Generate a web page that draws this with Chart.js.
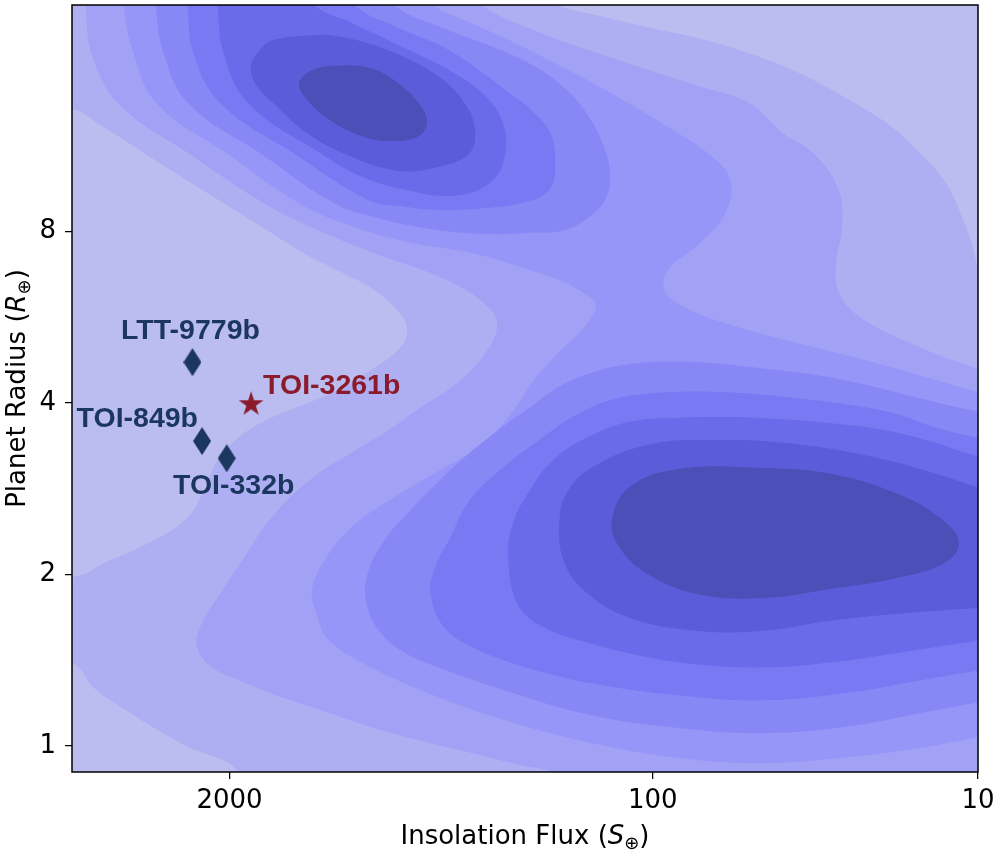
<!DOCTYPE html>
<html>
<head>
<meta charset="utf-8">
<title>Planet radius vs insolation flux</title>
<script src="https://cdn.jsdelivr.net/npm/chart.js@4.4.0/dist/chart.umd.min.js"></script>
<style>
  html, body { margin: 0; padding: 0; background: #ffffff; }
  #wrap { width: 995px; height: 853px; }
</style>
</head>
<body>
<div id="wrap"><canvas id="kdeChart" width="995" height="853"></canvas></div>
<script>
// tick values on both log axes
const fluxTicks = [2000, 100, 10];
const radiusTicks = [1, 2, 4, 8];

// comparison planets (diamonds) and the new planet (star)
const planetNames = ['LTT-9779b', 'TOI-849b', 'TOI-332b'];
const planetFlux = [2600, 2430, 2040];
const planetRadius = [4.72, 3.43, 3.2];
const targetName = 'TOI-3261b';
const targetFlux = 1717;
const targetRadius = 3.98;

// density contour outlines as [flux, radius] pairs.
// outlines that leave the plot keep going outside and get clipped.
const level1 = [
  [20000, 27.6], [20000, 13.4], [6130, 13.15], [5030, 12.38], [3630, 10.98], [2660, 9.81],
  [2075, 8.98], [1563, 8.12], [1185, 7.35], [919, 6.83], [717, 6.33], [600, 5.77], [567, 5.37],
  [600, 4.98], [743, 4.54], [951, 4.18], [1219, 3.94], [1563, 3.71], [1879, 3.47], [2180, 3.16],
  [2390, 2.8], [2754, 2.48], [3529, 2.27], [4685, 2.11], [6130, 1.975], [20000, 1.95],
  [20000, 1.415], [6130, 1.398], [5210, 1.265], [4303, 1.172], [3407, 1.077], [2677, 0.998],
  [1879, 0.899], [1619, 0.634], [5, 0.634], [5, 6.01], [9.18, 6.01], [10, 6.78], [10.4, 7.49],
  [11.2, 8.45], [12.6, 9.73], [15.1, 10.98], [18.7, 12.28], [24.8, 13.58], [35.3, 15.13],
  [50.3, 16.4], [71.7, 17.42], [102, 18.2], [146, 19.1], [197, 19.88], [257, 20.9], [296, 27.6]
];
const level2 = [
  [5510, 21.7], [5510, 19.88], [5290, 16.4], [4370, 13.41], [2660, 10.98], [1563, 8.98],
  [1100, 8.12], [743, 7.4], [430, 6.59], [324, 5.94], [300, 5.48], [324, 4.92], [393, 4.36],
  [521, 3.91], [658, 3.56], [826, 3.29], [1120, 2.94], [1487, 2.51], [1800, 2.14], [2149, 1.837],
  [2442, 1.628], [2512, 1.503], [2307, 1.387], [1866, 1.306], [1487, 1.239], [1043, 1.157],
  [732, 1.081], [514, 1.022], [361, 0.974], [257, 0.928], [200, 0.899], [146, 0.807], [5, 0.634],
  [5, 4.36], [8.55, 4.5], [10.07, 4.59], [15.8, 5.06], [22.6, 5.61], [26.6, 6.18], [27.5, 6.86],
  [26.2, 8.38], [27.2, 9.61], [32.2, 10.98], [39.8, 11.89], [50.3, 13.41], [71.7, 14.36],
  [102, 15.32], [146, 16.4], [207, 17.58], [333, 19.88], [366, 21.7]
];
const level3 = [
  [4213, 21.7], [4213, 19.88], [3925, 16.4], [3330, 13.41], [2030, 10.98], [1219, 8.98],
  [855, 8.22], [579, 7.71], [348, 7.32], [239, 6.86], [193, 6.59], [164, 6.26], [149, 5.94],
  [162, 5.43], [193, 4.92], [231, 4.39], [275, 3.79], [341, 3.36], [452, 3.04], [649, 2.69],
  [855, 2.4], [1021, 2.11], [1112, 1.875], [1073, 1.695], [986, 1.534], [732, 1.376], [455, 1.22],
  [285, 1.112], [154, 1.014], [82.6, 0.954], [45.9, 0.935], [24.8, 0.958], [15.1, 0.994],
  [10, 1.038], [8, 1.06], [5, 1.112], [5, 4.02], [8, 4.13], [10, 4.18], [14, 4.41], [20, 4.67],
  [28.5, 4.92], [40.7, 5.18], [57.9, 5.48], [76.9, 5.82], [91.8, 6.26], [89.9, 6.86], [71.7, 7.64],
  [60, 8.63], [57.9, 9.85], [66.8, 10.89], [88.6, 12.13], [126, 13.69], [193, 15.62], [296, 17.63],
  [421, 19.25], [465, 19.88], [503, 21.7]
];
const level4Upper = [
  [3359, 21.7], [3359, 19.88], [3173, 16.4], [2660, 13.41], [1600, 10.98], [951, 8.98], [692, 8.45],
  [559, 8.22], [421, 8.02], [296, 7.93], [239, 7.98], [189, 8.05], [156, 8.52], [139, 9.23],
  [136, 10.25], [143, 11.42], [160, 12.89], [189, 14.36], [239, 15.75], [317, 16.93], [421, 17.99],
  [618, 19.88], [645, 21.7]
];
const level4Lower = [
  [149, 4.54], [193, 4.27], [236, 3.94], [296, 3.59], [366, 3.26], [452, 2.92], [559, 2.58],
  [668, 2.29], [753, 1.99], [753, 1.765], [682, 1.577], [579, 1.461], [455, 1.376], [285, 1.254],
  [154, 1.134], [82.6, 1.077], [45.9, 1.055], [24.8, 1.085], [15.1, 1.144], [10, 1.195], [8, 1.22],
  [5, 1.254], [5, 3.71], [8, 3.82], [10, 3.86], [15.1, 4.07], [22.6, 4.31], [32.2, 4.48],
  [45.9, 4.59], [65.4, 4.69], [93.1, 4.72], [118, 4.67]
];
const level5Upper = [
  [2677, 21.7], [2677, 19.88], [2570, 16.4], [2119, 13.41], [1263, 10.98], [743, 9.09], [579, 8.87],
  [485, 8.77], [341, 8.8], [236, 9.09], [207, 9.54], [200, 10.54], [207, 11.89], [231, 12.89],
  [275, 13.97], [421, 16.6], [600, 18.16], [820, 19.88], [855, 21.7]
];
const level5Lower = [
  [73.2, 4.18], [102, 4.15], [133, 4.05], [174, 3.79], [236, 3.36], [296, 3.04], [366, 2.69],
  [415, 2.34], [469, 2.03], [479, 1.837], [437, 1.616], [366, 1.503], [285, 1.415], [215, 1.348],
  [154, 1.29], [82.6, 1.229], [45.9, 1.205], [24.8, 1.244], [15.1, 1.306], [10, 1.359], [8, 1.387],
  [5, 1.415], [5, 3.36], [8, 3.42], [10, 3.47], [14, 3.64], [17.8, 3.82], [25.3, 3.97],
  [36.1, 4.07], [51.4, 4.15]
];
const level6Upper = [
  [2165, 21.7], [2165, 19.88], [2075, 16.4], [1738, 13.41], [1043, 10.98], [797, 10.05], [579, 9.5],
  [407, 9.27], [313, 9.81], [285, 10.98], [291, 12.48], [329, 13.85], [421, 15.32], [600, 16.93],
  [855, 18.64], [1089, 19.88], [1177, 21.7]
];
const level6Lower = [
  [57.9, 3.77], [82.6, 3.76], [118, 3.7], [156, 3.49], [200, 3.19], [239, 2.8], [270, 2.43],
  [277, 2.11], [258, 1.765], [215, 1.616], [154, 1.515], [102, 1.432], [71.7, 1.392], [45.9, 1.376],
  [28.5, 1.404], [17.4, 1.461], [10, 1.534], [8, 1.558], [5, 1.596], [5, 3.13], [8, 3.19],
  [10, 3.22], [14, 3.42], [20, 3.59], [28.5, 3.68], [40.7, 3.74]
];
const level7Upper = [
  [1600, 16.73], [1713, 15.62], [1642, 14.42], [1487, 13.58], [1177, 12.03], [887, 10.98], [605, 10.25],
  [455, 10.42], [368, 10.98], [353, 12.03], [379, 13.41], [455, 14.95], [649, 16.6], [925, 17.58],
  [1177, 17.63], [1487, 17.28]
];
const level7Lower = [
  [193, 2.43], [185, 2.75], [156, 3.06], [104, 3.37], [65.4, 3.44], [36.1, 3.38], [20, 3.19],
  [12.5, 2.96], [10, 2.84], [8, 2.78], [5, 2.75], [5, 1.801], [8, 1.765], [10, 1.751], [17.8, 1.709],
  [28.5, 1.662], [45.9, 1.596], [73.2, 1.596], [118, 1.682], [162, 1.875], [187, 2.11]
];
const level8Upper = [
  [1219, 14.54], [1120, 15.32], [925, 15.62], [732, 15.44], [605, 14.54], [525, 13.41], [496, 12.48],
  [525, 11.79], [635, 11.56], [769, 11.75], [972, 12.53], [1144, 13.58]
];
const level8Lower = [
  [133, 2.48], [118, 2.84], [82.6, 3.06], [45.9, 3.07], [28.5, 3.0], [17.8, 2.77], [13.1, 2.51],
  [11.5, 2.29], [12.5, 2.11], [17.8, 1.975], [28.5, 1.89], [45.9, 1.822], [73.2, 1.852], [104, 2.01],
  [126, 2.23]
];

// colours: index 0 is the lowest level (plot background)
const levelColors = ['#bbbcef', '#aeaff3', '#a1a2f5', '#9596f7', '#8788f6', '#7879f3', '#6a6bea', '#5b5cda', '#4c4fb7'];
const navy = '#1b365f';
const darkRed = '#8b1a2b';

const contourLevels = [
  { outline: level1, level: 1 },
  { outline: level2, level: 2 },
  { outline: level3, level: 3 },
  { outline: level4Upper, level: 4 },
  { outline: level4Lower, level: 4 },
  { outline: level5Upper, level: 5 },
  { outline: level5Lower, level: 5 },
  { outline: level6Upper, level: 6 },
  { outline: level6Lower, level: 6 },
  { outline: level7Upper, level: 7 },
  { outline: level7Lower, level: 7 },
  { outline: level8Upper, level: 8 },
  { outline: level8Lower, level: 8 }
];

// wrap the outline round once more so the smoothed curve has no corner where it closes
function closedShape(outline) {
  const pts = outline.map(p => ({ x: p[0], y: p[1] }));
  const n = pts.length;
  return [pts[n - 1]].concat(pts, [pts[0], pts[1]]).map(p => ({ x: p.x, y: p.y }));
}

// marker images: matplotlib thin diamond and filled star
function makeDiamond(w, h, color) {
  const c = document.createElement('canvas');
  c.width = w; c.height = h;
  const g = c.getContext('2d');
  g.fillStyle = color;
  g.beginPath();
  g.moveTo(w / 2, 0); g.lineTo(w, h / 2); g.lineTo(w / 2, h); g.lineTo(0, h / 2);
  g.closePath();
  g.fill();
  return c;
}
function makeStar(size, outer, color) {
  const c = document.createElement('canvas');
  c.width = size; c.height = size;
  const g = c.getContext('2d');
  const inner = outer * 0.382;
  g.fillStyle = color;
  g.beginPath();
  for (let i = 0; i < 10; i++) {
    const r = i % 2 === 0 ? outer : inner;
    const a = -Math.PI / 2 + i * Math.PI / 5;
    const px = size / 2 + r * Math.cos(a);
    const py = size / 2 + r * Math.sin(a);
    if (i === 0) g.moveTo(px, py); else g.lineTo(px, py);
  }
  g.closePath();
  g.fill();
  return c;
}

const diamondImg = makeDiamond(18, 28, navy);
const starImg = makeStar(28, 13, darkRed);

const datasets = contourLevels.map((lv, i) => ({
  data: closedShape(lv.outline),
  showLine: true,
  fill: 'shape',
  backgroundColor: levelColors[lv.level],
  borderColor: levelColors[lv.level],
  borderWidth: 1,
  pointRadius: 0,
  tension: 0.4,
  capBezierPoints: false,
  order: 100 - i
}));

// markers are images, the radius only has to be non-zero
datasets.push({
  data: planetFlux.map((f, i) => ({ x: f, y: planetRadius[i] })),
  showLine: false,
  fill: false,
  pointStyle: diamondImg,
  pointRadius: 1,
  order: 1
});
datasets.push({
  data: [{ x: targetFlux, y: targetRadius }],
  showLine: false,
  fill: false,
  pointStyle: starImg,
  pointRadius: 1,
  order: 0
});

// label placement next to the markers (pixel offsets from the marker)
const planetLabelOffsets = [
  { dx: -2, dy: -23, align: 'center' },
  { dx: -4, dy: -14, align: 'right' },
  { dx: 7, dy: 36, align: 'center' }
];
const targetLabelOffset = { dx: 12, dy: -10, align: 'left' };

const labelFont = 'bold 28.5px "Liberation Sans", Arial, sans-serif';
const axisFont = '"DejaVu Sans"';

// fill the plot area with the lowest contour colour
const plotBackground = {
  id: 'plotBackground',
  beforeDraw(chart) {
    const { ctx, chartArea: a } = chart;
    ctx.save();
    ctx.fillStyle = levelColors[0];
    ctx.fillRect(a.left, a.top, a.right - a.left, a.bottom - a.top);
    ctx.restore();
  }
};

const planetLabels = {
  id: 'planetLabels',
  afterDatasetsDraw(chart) {
    const { ctx, scales } = chart;
    ctx.save();
    ctx.font = labelFont;
    ctx.textBaseline = 'alphabetic';
    planetNames.forEach((name, i) => {
      const o = planetLabelOffsets[i];
      ctx.fillStyle = navy;
      ctx.textAlign = o.align;
      ctx.fillText(name, scales.x.getPixelForValue(planetFlux[i]) + o.dx,
        scales.y.getPixelForValue(planetRadius[i]) + o.dy);
    });
    ctx.fillStyle = darkRed;
    ctx.textAlign = targetLabelOffset.align;
    ctx.fillText(targetName, scales.x.getPixelForValue(targetFlux) + targetLabelOffset.dx,
      scales.y.getPixelForValue(targetRadius) + targetLabelOffset.dy);
    ctx.restore();
  }
};

// draw a label made of pieces (normal text, italic symbol, subscript)
function drawPieces(ctx, pieces, cx, baseY) {
  let total = 0;
  pieces.forEach(p => { ctx.font = p.font; p.w = ctx.measureText(p.text).width; total += p.w; });
  let x = cx - total / 2;
  ctx.textAlign = 'left';
  ctx.textBaseline = 'alphabetic';
  pieces.forEach(p => {
    ctx.font = p.font;
    ctx.fillText(p.text, x, baseY + (p.shift || 0));
    x += p.w;
  });
}

const frameAndTitles = {
  id: 'frameAndTitles',
  afterDraw(chart) {
    const { ctx, chartArea: a } = chart;
    ctx.save();
    ctx.strokeStyle = '#000';
    ctx.lineWidth = 1.5;
    ctx.strokeRect(a.left, a.top, a.right - a.left, a.bottom - a.top);

    ctx.fillStyle = '#000';
    const normal = '26px ' + axisFont;
    const italic = 'italic 26px ' + axisFont;
    const sub = '18px ' + axisFont;
    drawPieces(ctx, [
      { text: 'Insolation Flux (', font: normal },
      { text: 'S', font: italic },
      { text: '\u2295', font: sub, shift: 5 },
      { text: ')', font: normal }
    ], (a.left + a.right) / 2, 844);

    ctx.translate(25, (a.top + a.bottom) / 2);
    ctx.rotate(-Math.PI / 2);
    drawPieces(ctx, [
      { text: 'Planet Radius (', font: normal },
      { text: 'R', font: italic },
      { text: '\u2295', font: sub, shift: 5 },
      { text: ')', font: normal }
    ], 0, 0);
    ctx.restore();
  }
};

const ctx = document.getElementById('kdeChart').getContext('2d');
const chart = new Chart(ctx, {
  type: 'line',
  data: { datasets: datasets },
  options: {
    responsive: false,
    animation: false,
    events: [],
    layout: { padding: { left: 0, right: 17, top: 2, bottom: 0 } },
    plugins: {
      legend: { display: false },
      tooltip: { enabled: false }
    },
    elements: {
      line: { capBezierPoints: false }
    },
    scales: {
      x: {
        type: 'logarithmic',
        reverse: true,
        min: 10,
        max: 6100,
        afterBuildTicks: scale => { scale.ticks = fluxTicks.map(v => ({ value: v })); },
        afterFit: scale => {
          scale.height = 81;
          scale.paddingLeft = 0;
          scale.paddingRight = 0;
        },
        ticks: {
          callback: v => String(v),
          font: { family: 'DejaVu Sans', size: 26 },
          color: '#000',
          padding: 7,
          autoSkip: false,
          maxRotation: 0
        },
        grid: { drawOnChartArea: false, drawTicks: true, tickLength: 7, color: '#000', lineWidth: 1.25 },
        border: { display: false }
      },
      y: {
        type: 'logarithmic',
        min: 0.9,
        max: 20,
        afterBuildTicks: scale => { scale.ticks = radiusTicks.map(v => ({ value: v })); },
        afterFit: scale => {
          scale.width = 72;
          scale.paddingTop = 0;
          scale.paddingBottom = 0;
        },
        ticks: {
          callback: v => String(v),
          font: { family: 'DejaVu Sans', size: 26 },
          color: '#000',
          padding: 9,
          autoSkip: false
        },
        grid: { drawOnChartArea: false, drawTicks: true, tickLength: 7, color: '#000', lineWidth: 1.25 },
        border: { display: false }
      }
    }
  },
  plugins: [plotBackground, planetLabels, frameAndTitles]
});
</script>
</body>
</html>
